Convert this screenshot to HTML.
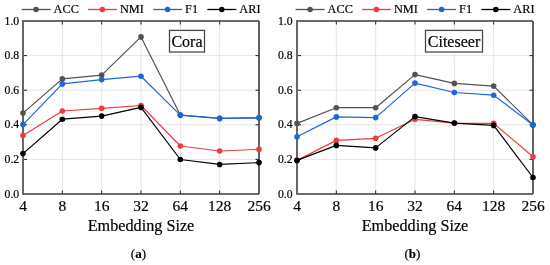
<!DOCTYPE html>
<html><head><meta charset="utf-8"><style>
html,body{margin:0;padding:0;background:#fff;width:550px;height:265px;overflow:hidden}
svg{display:block;will-change:transform}
text{font-family:"Liberation Serif",serif;fill:#000;stroke:#000;stroke-width:0.18px}
</style></head><body>
<svg width="550" height="265" viewBox="0 0 550 265">
<rect width="550" height="265" fill="#fff"/>
<line x1="62.33" y1="21" x2="62.33" y2="194" stroke="#e5e5e5" stroke-width="1"/>
<line x1="101.67" y1="21" x2="101.67" y2="194" stroke="#e5e5e5" stroke-width="1"/>
<line x1="141" y1="21" x2="141" y2="194" stroke="#e5e5e5" stroke-width="1"/>
<line x1="180.33" y1="21" x2="180.33" y2="194" stroke="#e5e5e5" stroke-width="1"/>
<line x1="219.67" y1="21" x2="219.67" y2="194" stroke="#e5e5e5" stroke-width="1"/>
<line x1="23" y1="159.4" x2="259" y2="159.4" stroke="#e5e5e5" stroke-width="1"/>
<line x1="23" y1="124.8" x2="259" y2="124.8" stroke="#e5e5e5" stroke-width="1"/>
<line x1="23" y1="90.2" x2="259" y2="90.2" stroke="#e5e5e5" stroke-width="1"/>
<line x1="23" y1="55.6" x2="259" y2="55.6" stroke="#e5e5e5" stroke-width="1"/>
<line x1="62.33" y1="194" x2="62.33" y2="190.5" stroke="#222" stroke-width="1"/>
<line x1="62.33" y1="21" x2="62.33" y2="24.5" stroke="#222" stroke-width="1"/>
<line x1="101.67" y1="194" x2="101.67" y2="190.5" stroke="#222" stroke-width="1"/>
<line x1="101.67" y1="21" x2="101.67" y2="24.5" stroke="#222" stroke-width="1"/>
<line x1="141" y1="194" x2="141" y2="190.5" stroke="#222" stroke-width="1"/>
<line x1="141" y1="21" x2="141" y2="24.5" stroke="#222" stroke-width="1"/>
<line x1="180.33" y1="194" x2="180.33" y2="190.5" stroke="#222" stroke-width="1"/>
<line x1="180.33" y1="21" x2="180.33" y2="24.5" stroke="#222" stroke-width="1"/>
<line x1="219.67" y1="194" x2="219.67" y2="190.5" stroke="#222" stroke-width="1"/>
<line x1="219.67" y1="21" x2="219.67" y2="24.5" stroke="#222" stroke-width="1"/>
<line x1="23" y1="159.4" x2="27" y2="159.4" stroke="#222" stroke-width="1"/>
<line x1="259" y1="159.4" x2="255.5" y2="159.4" stroke="#222" stroke-width="1"/>
<line x1="23" y1="124.8" x2="27" y2="124.8" stroke="#222" stroke-width="1"/>
<line x1="259" y1="124.8" x2="255.5" y2="124.8" stroke="#222" stroke-width="1"/>
<line x1="23" y1="90.2" x2="27" y2="90.2" stroke="#222" stroke-width="1"/>
<line x1="259" y1="90.2" x2="255.5" y2="90.2" stroke="#222" stroke-width="1"/>
<line x1="23" y1="55.6" x2="27" y2="55.6" stroke="#222" stroke-width="1"/>
<line x1="259" y1="55.6" x2="255.5" y2="55.6" stroke="#222" stroke-width="1"/>
<line x1="23" y1="21" x2="259" y2="21" stroke="#3a3a3a" stroke-width="1.7"/>
<line x1="23" y1="194" x2="259" y2="194" stroke="#3a3a3a" stroke-width="1.6"/>
<line x1="259" y1="21" x2="259" y2="194" stroke="#3a3a3a" stroke-width="1.6"/>
<line x1="23" y1="20.1" x2="23" y2="194.8" stroke="#666" stroke-width="2"/>
<polyline points="23,113.1 62.33,78.9 101.67,75.1 141,36.9 180.33,115.1 219.67,118.4 259,117.8" fill="none" stroke="#525252" stroke-width="1.2" stroke-linejoin="round"/>
<circle cx="23" cy="113.1" r="2.8" fill="#525252"/>
<circle cx="62.33" cy="78.9" r="2.8" fill="#525252"/>
<circle cx="101.67" cy="75.1" r="2.8" fill="#525252"/>
<circle cx="141" cy="36.9" r="2.8" fill="#525252"/>
<circle cx="180.33" cy="115.1" r="2.8" fill="#525252"/>
<circle cx="219.67" cy="118.4" r="2.8" fill="#525252"/>
<circle cx="259" cy="117.8" r="2.8" fill="#525252"/>
<polyline points="23,135.5 62.33,111 101.67,108.3 141,105.5 180.33,146 219.67,151 259,149.4" fill="none" stroke="#ee3b3b" stroke-width="1.2" stroke-linejoin="round"/>
<circle cx="23" cy="135.5" r="2.8" fill="#ee3b3b"/>
<circle cx="62.33" cy="111" r="2.8" fill="#ee3b3b"/>
<circle cx="101.67" cy="108.3" r="2.8" fill="#ee3b3b"/>
<circle cx="141" cy="105.5" r="2.8" fill="#ee3b3b"/>
<circle cx="180.33" cy="146" r="2.8" fill="#ee3b3b"/>
<circle cx="219.67" cy="151" r="2.8" fill="#ee3b3b"/>
<circle cx="259" cy="149.4" r="2.8" fill="#ee3b3b"/>
<polyline points="23,124.6 62.33,83.9 101.67,79.6 141,76.2 180.33,115.1 219.67,118.4 259,117.8" fill="none" stroke="#1c66dd" stroke-width="1.2" stroke-linejoin="round"/>
<circle cx="23" cy="124.6" r="2.8" fill="#1c66dd"/>
<circle cx="62.33" cy="83.9" r="2.8" fill="#1c66dd"/>
<circle cx="101.67" cy="79.6" r="2.8" fill="#1c66dd"/>
<circle cx="141" cy="76.2" r="2.8" fill="#1c66dd"/>
<circle cx="180.33" cy="115.1" r="2.8" fill="#1c66dd"/>
<circle cx="219.67" cy="118.4" r="2.8" fill="#1c66dd"/>
<circle cx="259" cy="117.8" r="2.8" fill="#1c66dd"/>
<polyline points="23,153.6 62.33,119.2 101.67,116.1 141,107.4 180.33,159.5 219.67,164.45 259,162.6" fill="none" stroke="#000000" stroke-width="1.2" stroke-linejoin="round"/>
<circle cx="23" cy="153.6" r="2.8" fill="#000000"/>
<circle cx="62.33" cy="119.2" r="2.8" fill="#000000"/>
<circle cx="101.67" cy="116.1" r="2.8" fill="#000000"/>
<circle cx="141" cy="107.4" r="2.8" fill="#000000"/>
<circle cx="180.33" cy="159.5" r="2.8" fill="#000000"/>
<circle cx="219.67" cy="164.45" r="2.8" fill="#000000"/>
<circle cx="259" cy="162.6" r="2.8" fill="#000000"/>
<text x="19.2" y="197.6" font-size="11.7" text-anchor="end">0.0</text>
<text x="19.2" y="163" font-size="11.7" text-anchor="end">0.2</text>
<text x="19.2" y="128.4" font-size="11.7" text-anchor="end">0.4</text>
<text x="19.2" y="93.8" font-size="11.7" text-anchor="end">0.6</text>
<text x="19.2" y="59.2" font-size="11.7" text-anchor="end">0.8</text>
<text x="19.2" y="24.6" font-size="11.7" text-anchor="end">1.0</text>
<text x="23" y="210.7" font-size="15.5" text-anchor="middle">4</text>
<text x="62.33" y="210.7" font-size="15.5" text-anchor="middle">8</text>
<text x="101.67" y="210.7" font-size="15.5" text-anchor="middle">16</text>
<text x="141" y="210.7" font-size="15.5" text-anchor="middle">32</text>
<text x="180.33" y="210.7" font-size="15.5" text-anchor="middle">64</text>
<text x="219.67" y="210.7" font-size="15.5" text-anchor="middle">128</text>
<text x="259" y="210.7" font-size="15.5" text-anchor="middle">256</text>
<text x="141" y="231.1" font-size="16.2" text-anchor="middle">Embedding Size</text>
<text x="138.4" y="258" font-size="13" text-anchor="middle">(<tspan font-weight="bold">a</tspan>)</text>
<rect x="169.5" y="30.4" width="35" height="21.6" fill="#fff" stroke="#444" stroke-width="1.25"/>
<text x="187" y="46.8" font-size="16" text-anchor="middle">Cora</text>
<line x1="21.6" y1="9.5" x2="50.6" y2="9.5" stroke="#525252" stroke-width="1.3"/>
<circle cx="36.1" cy="9.5" r="2.8" fill="#525252"/>
<text x="53.6" y="13.4" font-size="12.3">ACC</text>
<line x1="87.9" y1="9.5" x2="116.9" y2="9.5" stroke="#ee3b3b" stroke-width="1.3"/>
<circle cx="102.4" cy="9.5" r="2.8" fill="#ee3b3b"/>
<text x="119.9" y="13.4" font-size="12.3">NMI</text>
<line x1="153.1" y1="9.5" x2="182.1" y2="9.5" stroke="#1c66dd" stroke-width="1.3"/>
<circle cx="167.6" cy="9.5" r="2.8" fill="#1c66dd"/>
<text x="185.1" y="13.4" font-size="12.3">F1</text>
<line x1="207.3" y1="9.5" x2="236.3" y2="9.5" stroke="#000000" stroke-width="1.3"/>
<circle cx="221.8" cy="9.5" r="2.8" fill="#000000"/>
<text x="239.3" y="13.4" font-size="12.3">ARI</text>
<line x1="336.33" y1="21" x2="336.33" y2="194" stroke="#e5e5e5" stroke-width="1"/>
<line x1="375.67" y1="21" x2="375.67" y2="194" stroke="#e5e5e5" stroke-width="1"/>
<line x1="415" y1="21" x2="415" y2="194" stroke="#e5e5e5" stroke-width="1"/>
<line x1="454.33" y1="21" x2="454.33" y2="194" stroke="#e5e5e5" stroke-width="1"/>
<line x1="493.67" y1="21" x2="493.67" y2="194" stroke="#e5e5e5" stroke-width="1"/>
<line x1="297" y1="159.4" x2="533" y2="159.4" stroke="#e5e5e5" stroke-width="1"/>
<line x1="297" y1="124.8" x2="533" y2="124.8" stroke="#e5e5e5" stroke-width="1"/>
<line x1="297" y1="90.2" x2="533" y2="90.2" stroke="#e5e5e5" stroke-width="1"/>
<line x1="297" y1="55.6" x2="533" y2="55.6" stroke="#e5e5e5" stroke-width="1"/>
<line x1="336.33" y1="194" x2="336.33" y2="190.5" stroke="#222" stroke-width="1"/>
<line x1="336.33" y1="21" x2="336.33" y2="24.5" stroke="#222" stroke-width="1"/>
<line x1="375.67" y1="194" x2="375.67" y2="190.5" stroke="#222" stroke-width="1"/>
<line x1="375.67" y1="21" x2="375.67" y2="24.5" stroke="#222" stroke-width="1"/>
<line x1="415" y1="194" x2="415" y2="190.5" stroke="#222" stroke-width="1"/>
<line x1="415" y1="21" x2="415" y2="24.5" stroke="#222" stroke-width="1"/>
<line x1="454.33" y1="194" x2="454.33" y2="190.5" stroke="#222" stroke-width="1"/>
<line x1="454.33" y1="21" x2="454.33" y2="24.5" stroke="#222" stroke-width="1"/>
<line x1="493.67" y1="194" x2="493.67" y2="190.5" stroke="#222" stroke-width="1"/>
<line x1="493.67" y1="21" x2="493.67" y2="24.5" stroke="#222" stroke-width="1"/>
<line x1="297" y1="159.4" x2="301" y2="159.4" stroke="#222" stroke-width="1"/>
<line x1="533" y1="159.4" x2="529.5" y2="159.4" stroke="#222" stroke-width="1"/>
<line x1="297" y1="124.8" x2="301" y2="124.8" stroke="#222" stroke-width="1"/>
<line x1="533" y1="124.8" x2="529.5" y2="124.8" stroke="#222" stroke-width="1"/>
<line x1="297" y1="90.2" x2="301" y2="90.2" stroke="#222" stroke-width="1"/>
<line x1="533" y1="90.2" x2="529.5" y2="90.2" stroke="#222" stroke-width="1"/>
<line x1="297" y1="55.6" x2="301" y2="55.6" stroke="#222" stroke-width="1"/>
<line x1="533" y1="55.6" x2="529.5" y2="55.6" stroke="#222" stroke-width="1"/>
<line x1="297" y1="21" x2="533" y2="21" stroke="#3a3a3a" stroke-width="1.7"/>
<line x1="297" y1="194" x2="533" y2="194" stroke="#3a3a3a" stroke-width="1.6"/>
<line x1="533" y1="21" x2="533" y2="194" stroke="#3a3a3a" stroke-width="1.6"/>
<line x1="297" y1="20.1" x2="297" y2="194.8" stroke="#666" stroke-width="2"/>
<polyline points="297,123.4 336.33,107.7 375.67,107.7 415,74.6 454.33,83.4 493.67,86.1 533,124.9" fill="none" stroke="#525252" stroke-width="1.2" stroke-linejoin="round"/>
<circle cx="297" cy="123.4" r="2.8" fill="#525252"/>
<circle cx="336.33" cy="107.7" r="2.8" fill="#525252"/>
<circle cx="375.67" cy="107.7" r="2.8" fill="#525252"/>
<circle cx="415" cy="74.6" r="2.8" fill="#525252"/>
<circle cx="454.33" cy="83.4" r="2.8" fill="#525252"/>
<circle cx="493.67" cy="86.1" r="2.8" fill="#525252"/>
<circle cx="533" cy="124.9" r="2.8" fill="#525252"/>
<polyline points="297,160.4 336.33,140.4 375.67,138.3 415,119.3 454.33,123.1 493.67,123.4 533,156.8" fill="none" stroke="#ee3b3b" stroke-width="1.2" stroke-linejoin="round"/>
<circle cx="297" cy="160.4" r="2.8" fill="#ee3b3b"/>
<circle cx="336.33" cy="140.4" r="2.8" fill="#ee3b3b"/>
<circle cx="375.67" cy="138.3" r="2.8" fill="#ee3b3b"/>
<circle cx="415" cy="119.3" r="2.8" fill="#ee3b3b"/>
<circle cx="454.33" cy="123.1" r="2.8" fill="#ee3b3b"/>
<circle cx="493.67" cy="123.4" r="2.8" fill="#ee3b3b"/>
<circle cx="533" cy="156.8" r="2.8" fill="#ee3b3b"/>
<polyline points="297,136.7 336.33,116.9 375.67,117.6 415,83.1 454.33,92.5 493.67,95.2 533,124.9" fill="none" stroke="#1c66dd" stroke-width="1.2" stroke-linejoin="round"/>
<circle cx="297" cy="136.7" r="2.8" fill="#1c66dd"/>
<circle cx="336.33" cy="116.9" r="2.8" fill="#1c66dd"/>
<circle cx="375.67" cy="117.6" r="2.8" fill="#1c66dd"/>
<circle cx="415" cy="83.1" r="2.8" fill="#1c66dd"/>
<circle cx="454.33" cy="92.5" r="2.8" fill="#1c66dd"/>
<circle cx="493.67" cy="95.2" r="2.8" fill="#1c66dd"/>
<circle cx="533" cy="124.9" r="2.8" fill="#1c66dd"/>
<polyline points="297,160.4 336.33,145.4 375.67,147.9 415,116.6 454.33,123.1 493.67,125.4 533,177.5" fill="none" stroke="#000000" stroke-width="1.2" stroke-linejoin="round"/>
<circle cx="297" cy="160.4" r="2.8" fill="#000000"/>
<circle cx="336.33" cy="145.4" r="2.8" fill="#000000"/>
<circle cx="375.67" cy="147.9" r="2.8" fill="#000000"/>
<circle cx="415" cy="116.6" r="2.8" fill="#000000"/>
<circle cx="454.33" cy="123.1" r="2.8" fill="#000000"/>
<circle cx="493.67" cy="125.4" r="2.8" fill="#000000"/>
<circle cx="533" cy="177.5" r="2.8" fill="#000000"/>
<text x="292.5" y="197.6" font-size="11.7" text-anchor="end">0.0</text>
<text x="292.5" y="163" font-size="11.7" text-anchor="end">0.2</text>
<text x="292.5" y="128.4" font-size="11.7" text-anchor="end">0.4</text>
<text x="292.5" y="93.8" font-size="11.7" text-anchor="end">0.6</text>
<text x="292.5" y="59.2" font-size="11.7" text-anchor="end">0.8</text>
<text x="292.5" y="24.6" font-size="11.7" text-anchor="end">1.0</text>
<text x="297" y="210.7" font-size="15.5" text-anchor="middle">4</text>
<text x="336.33" y="210.7" font-size="15.5" text-anchor="middle">8</text>
<text x="375.67" y="210.7" font-size="15.5" text-anchor="middle">16</text>
<text x="415" y="210.7" font-size="15.5" text-anchor="middle">32</text>
<text x="454.33" y="210.7" font-size="15.5" text-anchor="middle">64</text>
<text x="493.67" y="210.7" font-size="15.5" text-anchor="middle">128</text>
<text x="533" y="210.7" font-size="15.5" text-anchor="middle">256</text>
<text x="415" y="231.1" font-size="16.2" text-anchor="middle">Embedding Size</text>
<text x="412.4" y="258" font-size="13" text-anchor="middle">(<tspan font-weight="bold">b</tspan>)</text>
<rect x="425.5" y="30.4" width="57" height="21.6" fill="#fff" stroke="#444" stroke-width="1.25"/>
<text x="454" y="46.8" font-size="16" text-anchor="middle">Citeseer</text>
<line x1="295.6" y1="9.5" x2="324.6" y2="9.5" stroke="#525252" stroke-width="1.3"/>
<circle cx="310.1" cy="9.5" r="2.8" fill="#525252"/>
<text x="327.6" y="13.4" font-size="12.3">ACC</text>
<line x1="361.9" y1="9.5" x2="390.9" y2="9.5" stroke="#ee3b3b" stroke-width="1.3"/>
<circle cx="376.4" cy="9.5" r="2.8" fill="#ee3b3b"/>
<text x="393.9" y="13.4" font-size="12.3">NMI</text>
<line x1="427.1" y1="9.5" x2="456.1" y2="9.5" stroke="#1c66dd" stroke-width="1.3"/>
<circle cx="441.6" cy="9.5" r="2.8" fill="#1c66dd"/>
<text x="459.1" y="13.4" font-size="12.3">F1</text>
<line x1="481.3" y1="9.5" x2="510.3" y2="9.5" stroke="#000000" stroke-width="1.3"/>
<circle cx="495.8" cy="9.5" r="2.8" fill="#000000"/>
<text x="513.3" y="13.4" font-size="12.3">ARI</text>
</svg>
</body></html>
